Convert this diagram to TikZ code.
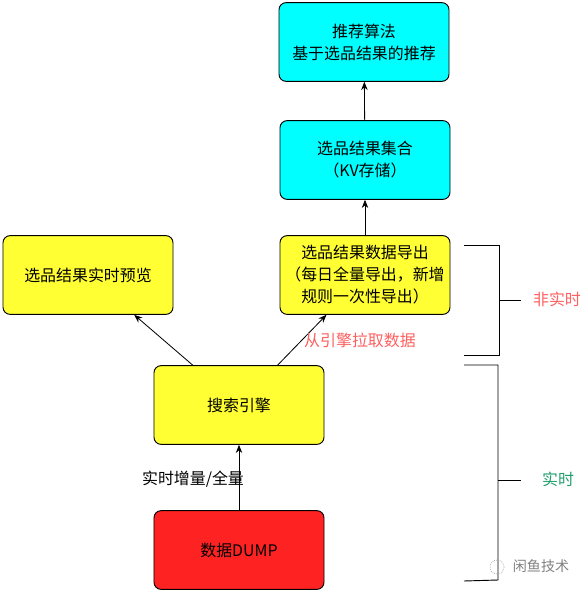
\documentclass[tikz,border=0pt]{standalone}
\usepackage{fontspec}
\setmainfont{Noto Sans CJK SC}
\usetikzlibrary{arrows.meta}
\definecolor{boxcyan}{HTML}{00FFFF}
\definecolor{boxyellow}{HTML}{FFFF33}
\definecolor{boxred}{HTML}{FF2222}
\definecolor{notetextred}{HTML}{FF5F5F}
\definecolor{notetextgreen}{HTML}{1F9E6B}
\tikzset{
  flowbox/.style={draw,line width=0.8pt,rounded corners=6pt,minimum width=5.1cm,minimum height=2.36cm,
    inner sep=0pt,align=center,font=\fontsize{13.6}{18.8}\selectfont},
  flowlabel/.style={inner sep=0pt,font=\fontsize{13.6}{18.8}\selectfont},
  bracketline/.style={line width=0.8pt,line join=miter}
}
\begin{document}
\begin{tikzpicture}[x=0.03cm,y=-0.03cm,line width=0.7pt,>={Stealth[length=7pt,width=5.5pt]}]
\useasboundingbox (0,0) rectangle (587,592);
% boxes
\node[flowbox,fill=boxcyan] (algo) at (364,42) {推荐算法\\基于选品结果的推荐};
\node[flowbox,fill=boxcyan] (kvset) at (365,160) {选品结果集合\\（KV存储）};
\node[flowbox,fill=boxyellow] (export) at (365,275) {选品结果数据导出\\（每日全量导出，新增\\规则一次性导出）};
\node[flowbox,fill=boxyellow] (preview) at (88,275) {选品结果实时预览};
\node[flowbox,fill=boxyellow] (engine) at (239,405) {搜索引擎};
\node[flowbox,fill=boxred] (dump) at (239,550) {数据DUMP};
% arrows
\draw[->] (dump) -- (engine);
\draw[->] (engine) -- (preview);
\draw[->] (engine) -- (export);
\draw[->] (export) -- (kvset);
\draw[->] (kvset) -- (algo);
% labels
\node[flowlabel] (pull) at (360,340) {\color{notetextred}从引擎拉取数据};
\node[flowlabel] (incr) at (193,479) {实时增量/全量};
% bracket non realtime
\coordinate (nta) at (464,245);
\coordinate (ntb) at (499,245);
\coordinate (ntc) at (499,355.5);
\coordinate (ntd) at (464,355.5);
\coordinate (nte) at (499,300);
\coordinate (ntf) at (521,300);
\draw[bracketline] (nta) -- (ntb) -- (ntc) -- (ntd);
\draw[bracketline] (nte) -- (ntf);
\node[flowlabel] (nonreal) at (557,299) {\color{notetextred}非实时};
% bracket realtime
\coordinate (rta) at (464,365);
\coordinate (rtb) at (498,365);
\coordinate (rtc) at (498,580);
\coordinate (rtd) at (464,581);
\coordinate (rte) at (498,480);
\coordinate (rtf) at (521,480);
\draw[bracketline] (rta) -- (rtb) -- (rtc) -- (rtd);
\draw[bracketline] (rte) -- (rtf);
\node[flowlabel] (real) at (558,479) {\color{notetextgreen}实时};
% watermark
\draw[gray!70,densely dotted,line width=0.6pt] (497,567) circle (7);
\node[inner sep=0pt,text=gray,font=\fontsize{12}{14}\selectfont] (mark) at (541,566) {闲鱼技术};
\end{tikzpicture}
\end{document}
